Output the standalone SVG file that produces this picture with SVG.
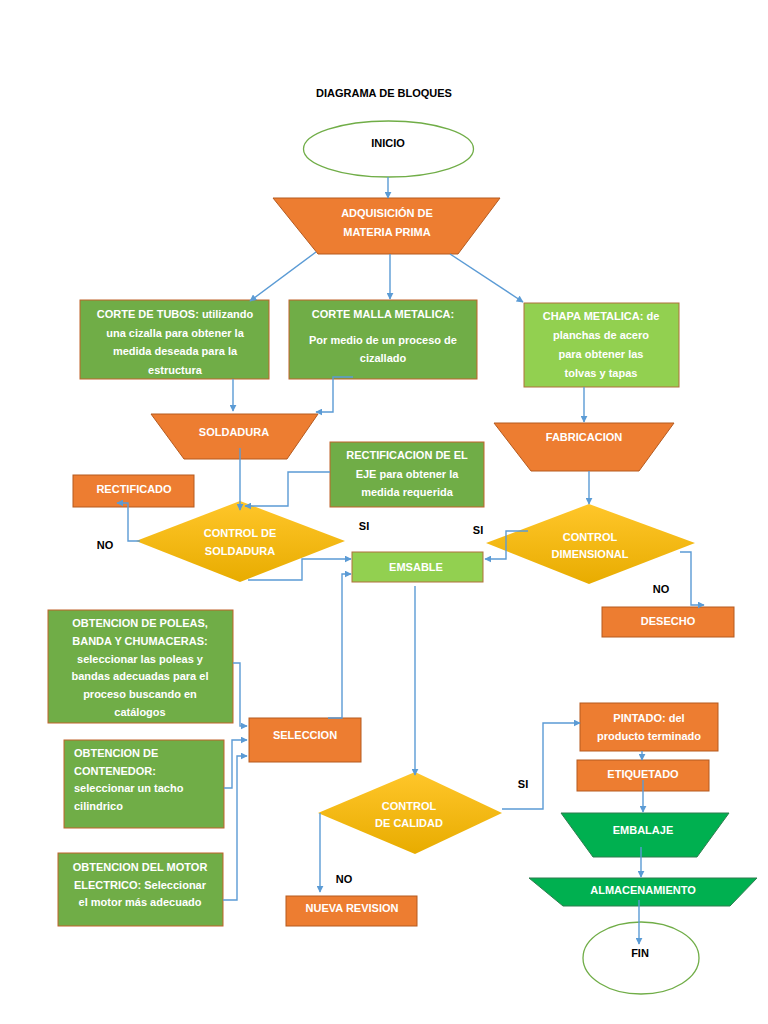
<svg xmlns="http://www.w3.org/2000/svg" width="768" height="1024" viewBox="0 0 768 1024">
<style>
text{font-family:"Liberation Sans","Noto Sans",sans-serif;font-size:11px;font-weight:bold;text-anchor:middle}
.w{fill:#ffffff}
.k{fill:#000000}
.l{text-anchor:start}
.or{fill:#ED7D31;stroke:#B55A1F;stroke-width:1}
.gr{fill:#70AD47;stroke:#C0632A;stroke-width:1}
.lg{fill:#92D050;stroke:#B0703A;stroke-width:1}
.dg{fill:#00B050;stroke:#2E7D4E;stroke-width:1}
.dia{fill:url(#gold)}
.ell{fill:#ffffff;stroke:#70AD47;stroke-width:1.3}
.c{fill:none;stroke:#5B9BD5;stroke-width:1.4;marker-end:url(#ah)}
</style>
<defs>
<linearGradient id="gold" x1="0" y1="0" x2="0" y2="1">
<stop offset="0" stop-color="#FFC62A"/>
<stop offset="1" stop-color="#E8AC00"/>
</linearGradient>
<marker id="ah" viewBox="0 0 10 10" refX="9" refY="5" markerWidth="7" markerHeight="7" markerUnits="userSpaceOnUse" orient="auto">
<path d="M0,0 L10,5 L0,10 z" fill="#5B9BD5"/>
</marker>
</defs>
<rect width="768" height="1024" fill="#ffffff"/>
<text class="k" x="384" y="97">DIAGRAMA DE BLOQUES</text>

<g id="inicio">
<ellipse class="ell" cx="388.5" cy="149" rx="85" ry="28"/>
<text class="k" x="388" y="147">INICIO</text>
</g>

<g id="adquisicion">
<polygon class="or" points="273,198 500,198 458,254 318,254"/>
<text class="w" x="387" y="217">ADQUISICIÓN DE</text>
<text class="w" x="387" y="236">MATERIA PRIMA</text>
</g>

<g id="corte-tubos">
<rect class="gr" x="80" y="300" width="189" height="79"/>
<text class="w" x="175" y="318">CORTE DE TUBOS: utilizando</text>
<text class="w" x="175" y="337">una cizalla para obtener la</text>
<text class="w" x="175" y="355">medida deseada para la</text>
<text class="w" x="175" y="374">estructura</text>
</g>

<g id="corte-malla">
<rect class="gr" x="289" y="300" width="188" height="79"/>
<text class="w" x="383" y="318">CORTE MALLA METALICA:</text>
<text class="w" x="383" y="344">Por medio de un proceso de</text>
<text class="w" x="383" y="362">cizallado</text>
</g>

<g id="chapa">
<rect class="lg" x="524" y="303" width="155" height="84"/>
<text class="w" x="601" y="320">CHAPA METALICA: de</text>
<text class="w" x="601" y="339">planchas de acero</text>
<text class="w" x="601" y="358">para obtener las</text>
<text class="w" x="601" y="377">tolvas y tapas</text>
</g>

<g id="soldadura">
<polygon class="or" points="151,414 318,414 287,459 184,459"/>
<text class="w" x="234" y="436">SOLDADURA</text>
</g>

<g id="fabricacion">
<polygon class="or" points="494,423 674,423 639,471 531,471"/>
<text class="w" x="584" y="441">FABRICACION</text>
</g>

<g id="rectificacion">
<rect class="gr" x="330" y="442" width="154" height="65"/>
<text class="w" x="407" y="459">RECTIFICACION DE EL</text>
<text class="w" x="407" y="478">EJE para obtener la</text>
<text class="w" x="407" y="496">medida requerida</text>
</g>

<g id="rectificado">
<rect class="or" x="73" y="475" width="121" height="32"/>
<text class="w" x="134" y="493">RECTIFICADO</text>
</g>

<g id="control-soldadura">
<polygon class="dia" points="240,501 345,541 240,582 136,541"/>
<text class="w" x="240" y="537">CONTROL DE</text>
<text class="w" x="240" y="555">SOLDADURA</text>
</g>

<g id="emsable">
<rect class="lg" x="352" y="552" width="131" height="30"/>
<text class="w" x="416" y="571">EMSABLE</text>
</g>

<g id="control-dimensional">
<polygon class="dia" points="589,504 695,543 589,584 486,543"/>
<text class="w" x="590" y="541">CONTROL</text>
<text class="w" x="590" y="558">DIMENSIONAL</text>
</g>

<g id="desecho">
<rect class="or" x="602" y="607" width="132" height="30"/>
<text class="w" x="668" y="625">DESECHO</text>
</g>

<g id="poleas">
<rect class="gr" x="48" y="610" width="185" height="113"/>
<text class="w" x="140" y="627">OBTENCION DE POLEAS,</text>
<text class="w" x="140" y="645">BANDA Y CHUMACERAS:</text>
<text class="w" x="140" y="663">seleccionar las poleas y</text>
<text class="w" x="140" y="680">bandas adecuadas para el</text>
<text class="w" x="140" y="698">proceso buscando en</text>
<text class="w" x="140" y="716">catálogos</text>
</g>

<g id="seleccion">
<rect class="or" x="249" y="718" width="112" height="44"/>
<text class="w" x="305" y="739">SELECCION</text>
</g>

<g id="contenedor">
<rect class="gr" x="64" y="740" width="160" height="88"/>
<text class="w l" x="74" y="757">OBTENCION DE</text>
<text class="w l" x="74" y="775">CONTENEDOR:</text>
<text class="w l" x="74" y="792">seleccionar un tacho</text>
<text class="w l" x="74" y="810">cilindrico</text>
</g>

<g id="motor">
<rect class="gr" x="58" y="853" width="165" height="73"/>
<text class="w" x="140" y="871">OBTENCION DEL MOTOR</text>
<text class="w" x="140" y="889">ELECTRICO: Seleccionar</text>
<text class="w" x="140" y="906">el motor más adecuado</text>
</g>

<g id="control-calidad">
<polygon class="dia" points="415,772 502,813 415,854 318,813"/>
<text class="w" x="409" y="810">CONTROL</text>
<text class="w" x="409" y="827">DE CALIDAD</text>
</g>

<g id="nueva-revision">
<rect class="or" x="286" y="896" width="131" height="30"/>
<text class="w" x="352" y="912">NUEVA REVISION</text>
</g>

<g id="pintado">
<rect class="or" x="580" y="703" width="138" height="48"/>
<text class="w" x="649" y="722">PINTADO: del</text>
<text class="w" x="649" y="740">producto terminado</text>
</g>

<g id="etiquetado">
<rect class="or" x="577" y="760" width="132" height="31"/>
<text class="w" x="643" y="778">ETIQUETADO</text>
</g>

<g id="embalaje">
<polygon class="dg" points="561,813 729,813 697,857 593,857"/>
<text class="w" x="643" y="834">EMBALAJE</text>
</g>

<g id="almacenamiento">
<polygon class="dg" points="529,878 757,878 730,906 563,906"/>
<text class="w" x="643" y="894">ALMACENAMIENTO</text>
</g>

<g id="fin">
<ellipse class="ell" cx="641" cy="958" rx="58" ry="36"/>
<text class="k" x="640" y="957">FIN</text>
</g>

<g id="connectors">
<path class="c" d="M388,177 V198"/>
<path class="c" d="M316,252 L250,301"/>
<path class="c" d="M390,254 V299"/>
<path class="c" d="M450,254 L523,302"/>
<path class="c" d="M233,379 V411"/>
<path class="c" d="M353,377 H333 V412 H316"/>
<path class="c" d="M240,448 V510"/>
<path class="c" d="M330,472 H288 V506 H245"/>
<path class="c" d="M140,541 H128 V503 H117"/>
<path class="c" d="M248,580 H302 V559 H351"/>
<path class="c" d="M328,718 H342 V574 H351"/>
<path class="c" d="M584,387 V422"/>
<path class="c" d="M589,471 V504"/>
<path class="c" d="M528,531 H506 V559 H485"/>
<path class="c" d="M680,552 H691 V605 H704"/>
<path class="c" d="M415,586 V775"/>
<path class="c" d="M320,813 V892"/>
<path class="c" d="M502,809 H543 V723 H580"/>
<path class="c" d="M642,751 V760"/>
<path class="c" d="M643,780 V812"/>
<path class="c" d="M641,847 V877"/>
<path class="c" d="M639,900 V944"/>
<path class="c" d="M233,663 H240 V726 H247"/>
<path class="c" d="M224,788 H232 V740 H247"/>
<path class="c" d="M223,900 H237 V756 H247"/>
</g>

<g id="labels">
<text class="k" x="105" y="549">NO</text>
<text class="k" x="364" y="530">SI</text>
<text class="k" x="478" y="534">SI</text>
<text class="k" x="661" y="593">NO</text>
<text class="k" x="344" y="883">NO</text>
<text class="k" x="523" y="788">SI</text>
</g>
</svg>
